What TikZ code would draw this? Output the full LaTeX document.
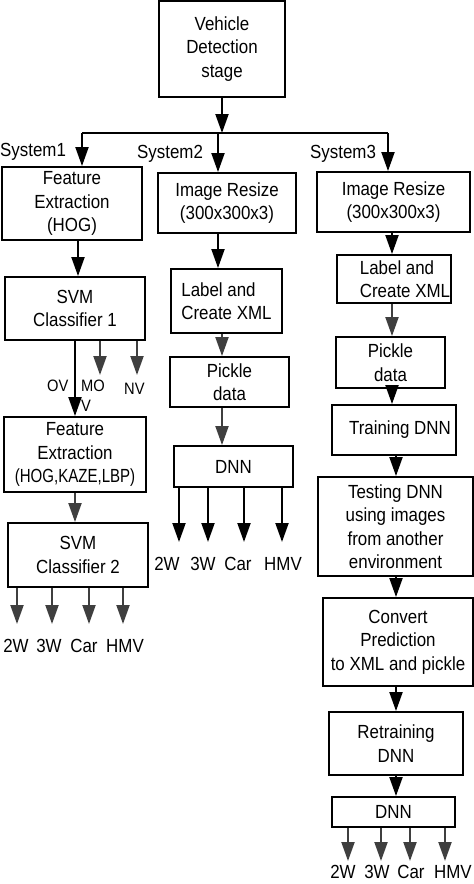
\documentclass[tikz,border=0pt]{standalone}
\usepackage{fontspec}
\setmainfont{Liberation Sans}[FakeStretch=0.89]
\usetikzlibrary{arrows.meta}
\definecolor{ag}{HTML}{3F3F3F}
\newcommand\myTf{\fontsize{19}{23.5}\selectfont}
\newcommand\mySf{\fontsize{16.5}{19.5}\selectfont}
\begin{document}
\begin{tikzpicture}[x=1pt,y=-1pt,
  box/.style={draw, line width=1.9pt, inner sep=0pt, align=center, font=\myTf},
  arr/.style={line width=2pt, -{Triangle[width=13pt,length=19pt]}},
  garr/.style={arr, draw=ag, fill=ag},
  lbl/.style={inner sep=0pt, font=\myTf},
  slbl/.style={inner sep=0pt, font=\mySf}]
\useasboundingbox[fill=white] (0,0) rectangle (474,884);

% top
\node[box, minimum width=126pt, minimum height=96pt] (top) at (222,49) {Vehicle\\Detection\\stage};
\coordinate (j) at (222,133);
\coordinate (j1) at (82,133);
\coordinate (j2) at (218,133);
\coordinate (j3) at (388,133);

% System 1
\node[box, minimum width=140pt, minimum height=73pt] (s1a) at (72,203.5) {Feature\\Extraction\\(HOG)};
\node[box, minimum width=140pt, minimum height=63pt] (s1b) at (75,308.5) {SVM\\Classifier 1};
\node[box, minimum width=142pt, minimum height=75pt] (s1c) at (75,454.5) {Feature\\Extraction\\\scalebox{0.89}[1]{(HOG,KAZE,LBP)}};
\node[box, minimum width=140pt, minimum height=64pt] (s1d) at (78,555) {SVM\\Classifier 2};

% System 2
\node[box, minimum width=138pt, minimum height=60pt] (s2a) at (227,203) {Image Resize\\(300x300x3)};
\node[box, minimum width=111pt, minimum height=64pt, align=left] (s2b) at (226.5,301) {Label and\\Create XML};
\node[box, minimum width=119pt, minimum height=50pt] (s2c) at (229.5,382) {Pickle\\data};
\node[box, minimum width=119pt, minimum height=41pt] (s2d) at (233.5,466.5) {DNN};

% System 3
\node[box, minimum width=153pt, minimum height=60pt] (s3a) at (393.5,202) {Image Resize\\(300x300x3)};
\node[box, minimum width=114pt, minimum height=48pt, align=left] (s3b) at (394,279) {\hspace*{22pt}Label and\\\hspace*{22pt}Create XML};
\node[box, minimum width=109pt, minimum height=51pt] (s3c) at (390.5,362.5) {Pickle\\data};
\node[box, minimum width=124pt, minimum height=50pt] (s3d) at (394,430) {\hspace*{12pt}Training DNN};
\node[box, minimum width=155pt, minimum height=99pt] (s3e) at (395.5,526.5) {Testing DNN\\using images\\from another\\environment};
\node[box, minimum width=150pt, minimum height=88pt] (s3f) at (398,642) {Convert\\Prediction\\to XML and pickle};
\node[box, minimum width=134pt, minimum height=63pt] (s3g) at (396,743.5) {Retraining\\DNN};
\node[box, minimum width=123pt, minimum height=30pt] (s3h) at (393.5,812) {DNN};

% system labels
\node[lbl, anchor=base west] (L1) at (0,156) {System1};
\node[lbl, anchor=base west] (L2) at (137,158) {System2};
\node[lbl, anchor=base west] (L3) at (310,158) {System3};

% top connectors
\draw[arr] (top.south) -- (j);
\draw[line width=2pt] (j1) -- (j3);
\draw[arr] (j1) -- (j1 |- s1a.north);
\draw[arr] (j2) -- (j2 |- s2a.north);
\draw[arr] (j3) -- (j3 |- s3a.north);

% column helpers
\coordinate (c78) at (78,0);
\coordinate (c75) at (75,0);
\coordinate (c218) at (218,0);
\coordinate (c222) at (222,0);
\coordinate (c392) at (392,0);
\coordinate (c396) at (396,0);

% System 1 connectors
\draw[arr] (s1a.south -| c78) -- (s1b.north -| c78);
\draw[arr] (s1b.south -| c75) -- (s1c.north -| c75);
\coordinate (mo) at (100,375);
\coordinate (nv) at (137,375);
\draw[garr] (s1b.south -| mo) -- (mo);
\draw[garr] (s1b.south -| nv) -- (nv);
\node[slbl, anchor=base west] (ov) at (47,391) {OV};
\node[slbl, anchor=north west, align=left] (mov) at (81,380) {MO\\V};
\node[slbl, anchor=base west] (nvl) at (124,394) {NV};
\draw[garr] (s1c.south -| c75) -- (s1d.north -| c75);
\foreach \x/\n in {17/a,52/b,89/c,123/d}{
  \coordinate (o1\n) at (\x,624);
  \draw[garr] (s1d.south -| o1\n) -- (o1\n);
}
\node[lbl, anchor=base] (t1a) at (16,652) {2W};
\node[lbl, anchor=base] (t1b) at (49,652) {3W};
\node[lbl, anchor=base] (t1c) at (84,652) {Car};
\node[lbl, anchor=base] (t1d) at (125,652) {HMV};

% System 2 connectors
\draw[arr] (s2a.south -| c218) -- (s2b.north -| c218);
\draw[garr] (s2b.south -| c222) -- (s2c.north -| c222);
\draw[garr] (s2c.south -| c222) -- (s2d.north -| c222);
\foreach \x/\n in {179/a,208/b,244/c,282/d}{
  \coordinate (o2\n) at (\x,542);
  \draw[arr] (s2d.south -| o2\n) -- (o2\n);
}
\node[lbl, anchor=base] (t2a) at (167,570) {2W};
\node[lbl, anchor=base] (t2b) at (203,570) {3W};
\node[lbl, anchor=base] (t2c) at (238,570) {Car};
\node[lbl, anchor=base] (t2d) at (283,570) {HMV};

% System 3 connectors
\draw[arr] (s3a.south -| c392) -- (s3b.north -| c392);
\draw[garr] (s3b.south -| c392) -- (s3c.north -| c392);
\draw[arr] (s3c.south -| c392) -- (s3d.north -| c392);
\draw[arr] (s3d.south -| c396) -- (s3e.north -| c396);
\draw[arr] (s3e.south -| c396) -- (s3f.north -| c396);
\draw[arr] (s3f.south -| c396) -- (s3g.north -| c396);
\draw[arr] (s3g.south -| c396) -- (s3h.north -| c396);
\foreach \x/\n in {348/a,381/b,410/c,445/d}{
  \coordinate (o3\n) at (\x,861);
  \draw[garr] (s3h.south -| o3\n) -- (o3\n);
}
\node[lbl, anchor=base] (t3a) at (343,878) {2W};
\node[lbl, anchor=base] (t3b) at (377,878) {3W};
\node[lbl, anchor=base] (t3c) at (411,878) {Car};
\node[lbl, anchor=base west] (t3d) at (434,878) {HMV};
\end{tikzpicture}
\end{document}
